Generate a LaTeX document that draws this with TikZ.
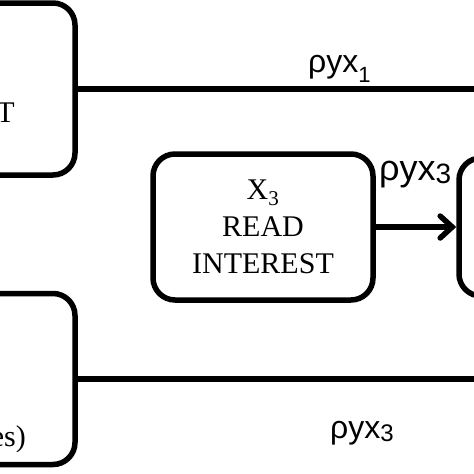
\documentclass[tikz,border=0pt]{standalone}
\usepackage{fontspec}
\setmainfont{Liberation Serif}
\newfontfamily\arialf{Liberation Sans}
\usetikzlibrary{arrows.meta}
\tikzset{
  boxst/.style={draw, line width=5.5pt, rounded corners=22pt, inner sep=0pt, align=center,
    font=\fontsize{30}{37}\selectfont},
  conn/.style={line width=5.5pt},
  rholab/.style={font=\arialf\fontsize{32}{32}\selectfont, inner sep=0pt, anchor=base west},
  boxtxt/.style={font=\fontsize{30}{37}\selectfont, inner sep=0pt, anchor=base east}
}
\begin{document}
\begin{tikzpicture}[x=1pt,y=-1pt]
\useasboundingbox (0,0) rectangle (474,474);
\clip (0,0) rectangle (474,474);
\node[boxst, minimum width=225pt, minimum height=172pt] (b1) at (-37.5,89) {};
\node[boxst, minimum width=225pt, minimum height=171pt] (b2) at (-37.5,379) {};
\node[boxst, minimum width=220pt, minimum height=146pt] (b3) at (263,227)
  {X\textsubscript{3}\\READ\\INTEREST};
\node[boxst, minimum width=222pt, minimum height=138pt] (b4) at (570,227) {};
\node[boxtxt] (t1) at (15,122) {T};
\node[boxtxt] (t2) at (26,446) {es)};
\coordinate (e1) at (480,89);
\coordinate (e2) at (480,379);
\draw[conn] (b1.east) -- (e1);
\draw[conn] (b2.east) -- (e2);
\draw[conn, -{Straight Barb[length=12pt,width=22pt,line cap=round]}] (b3.east) -- (b4.west);
\node[rholab] (l1) at (308,72) {ρyx\raisebox{-10pt}{\fontsize{22}{22}\selectfont 1}};
\node[rholab, font=\arialf\fontsize{36}{36}\selectfont] (l2) at (379,180) {ρyx\raisebox{-3pt}{\fontsize{28}{28}\selectfont 3}};
\node[rholab] (l3) at (330,438) {ρyx\raisebox{-3pt}{\fontsize{24}{24}\selectfont 3}};
\end{tikzpicture}
\end{document}
